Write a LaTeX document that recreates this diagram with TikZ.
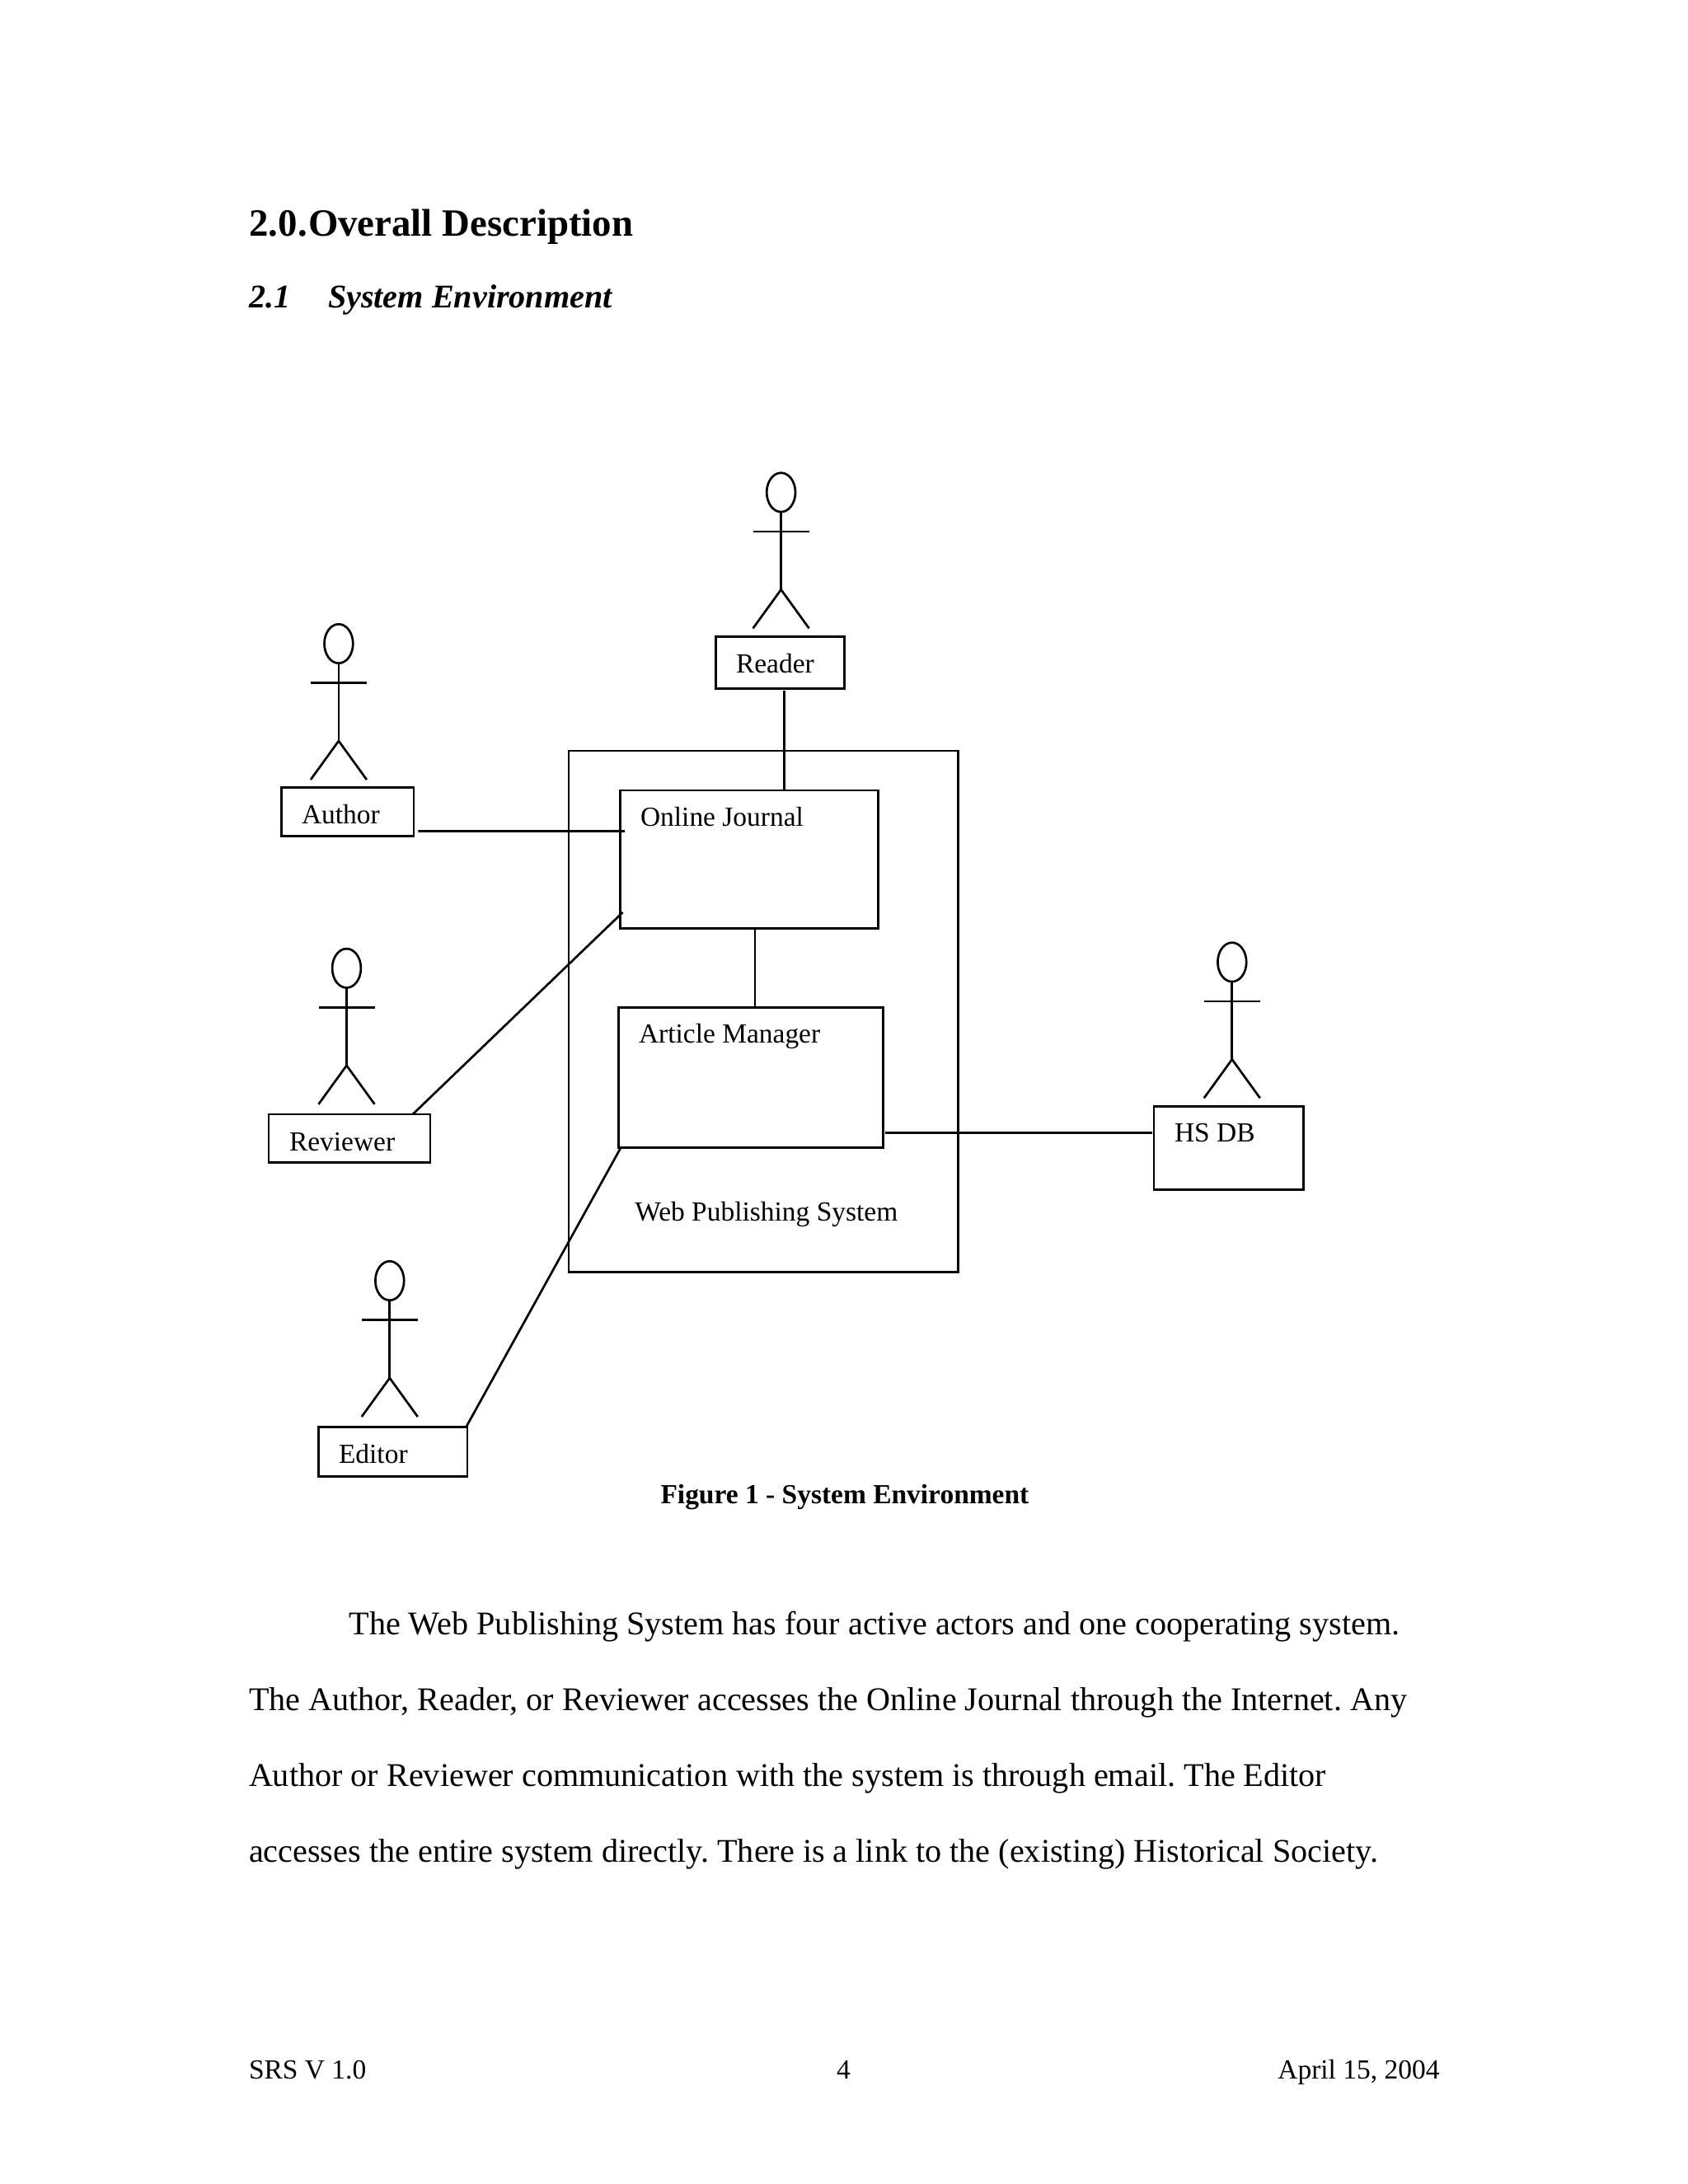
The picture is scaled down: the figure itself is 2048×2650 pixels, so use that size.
\documentclass[tikz,border=0pt]{standalone}
\usepackage{fontspec}
\setmainfont{Liberation Serif}
\frenchspacing
\def\pu{0.2988pt}
\tikzset{
  every node/.style={inner sep=0pt,outer sep=0pt},
  box/.style={draw,line width=0.8pt,rectangle},
  wire/.style={line width=0.8pt},
  stick/.style={line width=0.8pt},
  lbl/.style={anchor=base west,font=\fontsize{10}{12}\selectfont},
  para/.style={anchor=base west,font=\fontsize{12}{14}\selectfont},
}
\begin{document}
\begin{tikzpicture}[x=\pu,y=-\pu]
\useasboundingbox (0,0) rectangle (2048,2650);
\node[anchor=base west,font=\fontsize{14}{16}\selectfont\bfseries] (secnum) at (302.5,286) {2.0.};
\node[anchor=base west,font=\fontsize{14}{16}\selectfont\bfseries] (sectitle) at (374,286) {Overall Description};
\node[anchor=base west,font=\fontsize{12}{14}\selectfont\bfseries\itshape] (subnum) at (302,373.5) {2.1};
\node[anchor=base west,font=\fontsize{12}{14}\selectfont\bfseries\itshape] (subtitle) at (398,373.5) {System Environment};
% actors
\foreach \ax/\ay in {947.6/597.4, 410.9/781, 420.5/1174.8, 472.8/1554, 1494.8/1167.4}{
  \draw[stick] (\ax,\ay) ellipse (17.4 and 23.7);
  \draw[stick] (\ax,\ay+23.7) -- (\ax,\ay+118);
  \draw[stick] (\ax-34,\ay+47.5) -- (\ax+34,\ay+47.5);
  \draw[stick] (\ax-34,\ay+165) -- (\ax,\ay+118) -- (\ax+34,\ay+165);
}
% boxes
\node[box,minimum width=156.1*\pu,minimum height=63*\pu] (readerbox) at (946.5,804) {};
\node[box,minimum width=160.7*\pu,minimum height=58.5*\pu] (authorbox) at (421.8,984.9) {};
\node[box,minimum width=196*\pu,minimum height=58.4*\pu] (reviewerbox) at (424,1381.2) {};
\node[box,minimum width=180.5*\pu,minimum height=60.2*\pu] (editorbox) at (476.8,1761.4) {};
\node[box,minimum width=181.8*\pu,minimum height=101*\pu] (hsdbbox) at (1490.8,1392.8) {};
\node[box,minimum width=472.6*\pu,minimum height=632.5*\pu] (websystem) at (926.3,1227.3) {};
\node[box,minimum width=313.4*\pu,minimum height=167.6*\pu] (onlinejournal) at (909.1,1042.8) {};
\node[box,minimum width=320.6*\pu,minimum height=170.2*\pu] (articlemanager) at (910.9,1307.7) {};
% labels
\node[lbl] (readerlbl) at (893,816.5) {Reader};
\node[lbl] (authorlbl) at (366,999.5) {Author};
\node[lbl] (reviewerlbl) at (351,1396) {Reviewer};
\node[lbl] (editorlbl) at (411,1775) {Editor};
\node[lbl] (hsdblbl) at (1425,1385) {HS DB};
\node[lbl] (journallbl) at (777,1002.6) {Online Journal};
\node[lbl] (managerlbl) at (775,1265) {Article Manager};
\node[lbl] (systemlbl) at (770.4,1481) {Web Publishing System};
% connectors
\draw[wire] ([shift={(5.1,2.4)}]readerbox.south) -- ([shift={(42.5,1)}]onlinejournal.north);
\draw[wire] ([shift={(5.2,23.5)}]authorbox.east) -- ([shift={(5.7,-34.4)}]onlinejournal.west);
\draw[wire] ([shift={(76.8,0)}]reviewerbox.north) -- ([shift={(3.2,-19.7)}]onlinejournal.south west);
\draw[wire] ([shift={(6.9,0)}]onlinejournal.south) -- ([shift={(5.1,0)}]articlemanager.north);
\draw[wire] ([shift={(2.7,67.1)}]articlemanager.east) -- ([shift={(-1.9,-18)}]hsdbbox.west);
\draw[wire] ([shift={(-1.4,0)}]editorbox.north east) -- ([shift={(1.9,1)}]articlemanager.south west);
% text
\node[anchor=base west,font=\fontsize{10}{12}\selectfont\bfseries] (figcaption) at (801.5,1824.5) {Figure 1 - System Environment};
\node[para] (line1) at (423.5,1983) {The Web Publishing System has four active actors and one cooperating system.};
\node[para] (line2) at (302,2075.3) {The Author, Reader, or Reviewer accesses the Online Journal through the Internet. Any};
\node[para] (line3) at (302,2167) {Author or Reviewer communication with the system is through email. The Editor};
\node[para] (line4) at (302,2259) {accesses the entire system directly. There is a link to the (existing) Historical Society.};
\node[lbl] (footleft) at (302,2522) {SRS V 1.0};
\node[anchor=base,font=\fontsize{10}{12}\selectfont] (footmid) at (1023.5,2522) {4};
\node[anchor=base east,font=\fontsize{10}{12}\selectfont] (footright) at (1746.5,2522) {April 15, 2004};
\end{tikzpicture}
\end{document}
